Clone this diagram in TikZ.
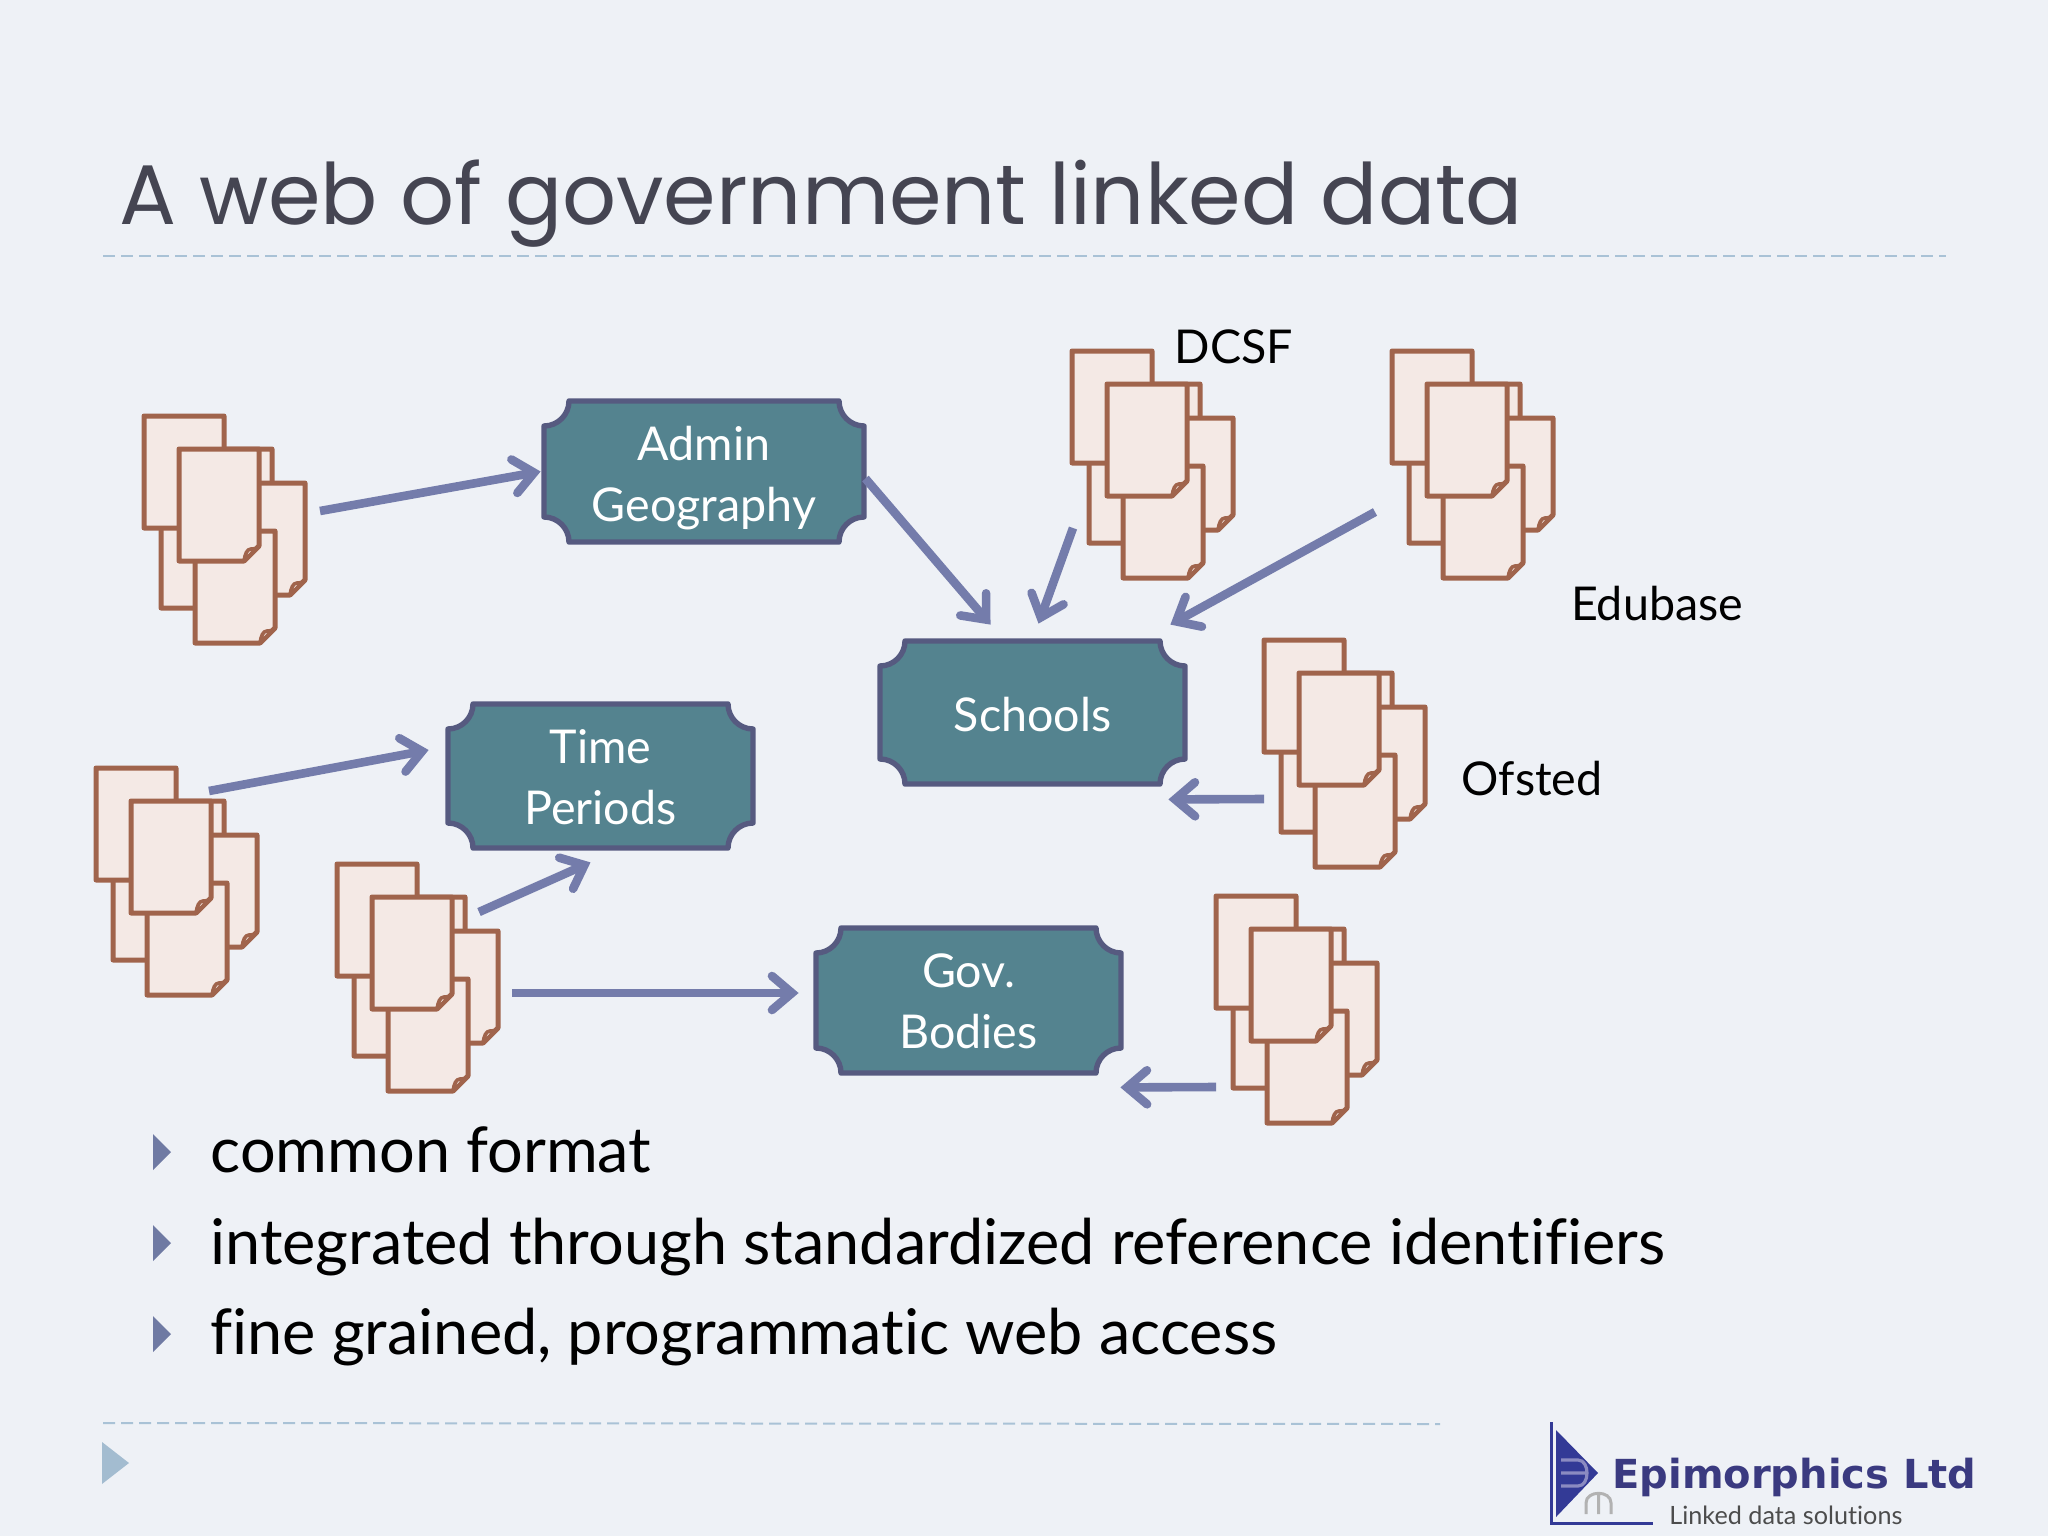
\documentclass[tikz,border=0pt]{standalone}
\usepackage{fontspec}
\setmainfont[Ligatures=NoCommon]{Lato}
\newfontfamily\titlefont{Poppins}
\newfontfamily\logofont{DejaVu Sans}
\usetikzlibrary{arrows.meta,calc}
\definecolor{bg}{HTML}{EEF1F6}
\definecolor{boxfill}{HTML}{54838F}
\definecolor{boxline}{HTML}{565A80}
\definecolor{arrowc}{HTML}{747CAB}
\definecolor{pagefill}{HTML}{F4E9E5}
\definecolor{pageline}{HTML}{A0644C}
\definecolor{titlec}{HTML}{454552}
\definecolor{dashc}{HTML}{A9C2D6}
\definecolor{playc}{HTML}{A3BCD0}
\definecolor{bulletc}{HTML}{6F7AA3}
\definecolor{logoblue}{HTML}{333A96}
\definecolor{logotext}{HTML}{3A3A80}
\tikzset{
  plaquepath/.style={draw=boxline,fill=boxfill,line width=2.7pt,line join=round},
  plaquetext/.style={inner sep=0pt,text=white,align=center,font=\fontsize{23.3}{30.5}\selectfont},
  pagepath/.style={draw=pageline,fill=pagefill,line width=2.5pt,line join=round},
  link/.style={draw=arrowc,line width=4.3pt,-{Straight Barb[length=10pt,width=17pt,line cap=round]}},
  dashrule/.style={draw=dashc,line width=1pt,dash pattern=on 6pt off 3pt},
  bulletmark/.style={fill=bulletc},
  bullettext/.style={anchor=base west,inner sep=0pt,font=\fontsize{31.5}{36}\selectfont,text=black},
  sidelabel/.style={inner sep=0pt,font=\fontsize{23.3}{30}\selectfont,text=black},
}
\newcommand{\rr}{25}
\newcommand{\plaque}[7]{%
  \path[plaquepath] ({#2+\rr},#3) -- ({#4-\rr},#3)
    .. controls ({#4-\rr},{#3+0.55*\rr}) and ({#4-0.55*\rr},{#3+\rr}) .. (#4,{#3+\rr})
    -- (#4,{#5-\rr})
    .. controls ({#4-0.55*\rr},{#5-\rr}) and ({#4-\rr},{#5-0.55*\rr}) .. ({#4-\rr},#5)
    -- ({#2+\rr},#5)
    .. controls ({#2+\rr},{#5-0.55*\rr}) and ({#2+0.55*\rr},{#5-\rr}) .. (#2,{#5-\rr})
    -- (#2,{#3+\rr})
    .. controls ({#2+0.55*\rr},{#3+\rr}) and ({#2+\rr},{#3+0.55*\rr}) .. ({#2+\rr},#3) -- cycle;
  \node[plaquetext,minimum width={(#4-#2)*0.5pt},minimum height={(#5-#3)*0.5pt}] (#1) at ({(#2+#4)/2},{(#3+#5)/2}) {};
  \node[plaquetext,anchor=center] at ($(#1.center)+(0,#6)$) {#7};
}
\newcommand{\docpage}[2]{%
  \begin{scope}[shift={(#1,#2)}]
    \path[pagepath] (0,0) -- (80,0) -- (80,97) -- (65,112) -- (0,112) -- cycle;
    \path[pagepath,line width=1.8pt] (65,112) .. controls (66,105) and (68,100) .. (72,100) .. controls (75,101) and (78,99) .. (80,97) -- cycle;
  \end{scope}
}
\newcommand{\docstack}[3]{%
  \coordinate (#1) at (#2,#3);
  \begin{scope}[shift={(#2+1,#3+1)}]
    \docpage{48}{33}\docpage{17}{80}\docpage{0}{0}\docpage{81}{67}\docpage{51}{115}\docpage{35}{33}
  \end{scope}
}
\begin{document}
\begin{tikzpicture}[x=0.5pt,y=-0.5pt]
\fill[bg] (0,0) rectangle (2048,1536);
\useasboundingbox (0,0) rectangle (2048,1536);
% title
\node[anchor=base west,inner sep=0pt,text=titlec,font=\titlefont\fontsize{42.3}{48}\selectfont] (title) at (119,224) {A web of government linked data};
\coordinate (ruleTopL) at (103,256);
\coordinate (ruleTopR) at (1946,256);
\draw[dashrule] (ruleTopL) -- (ruleTopR);
\coordinate (ruleBotL) at (103,1423);
\coordinate (ruleBotR) at (1440,1424);
\draw[dashrule] (ruleBotL) -- (ruleBotR);
\fill[playc] (102,1442) -- (129,1463) -- (102,1484) -- cycle;
% stacks
\docstack{stA}{143}{415}
\docstack{stD}{1071}{350}
\docstack{stE}{1391}{350}
\docstack{stO}{1263}{639}
\docstack{stT}{95}{767}
\docstack{stM}{336}{863}
\docstack{stG}{1215}{895}
% plaques
\plaque{admin}{544}{401}{864}{542}{7}{Admin\\Geography}
\plaque{schools}{880}{641}{1185}{784}{2}{Schools}
\plaque{time}{448}{704}{753}{848}{1}{Time\\Periods}
\plaque{gov}{816}{928}{1121}{1073}{1}{Gov.\\Bodies}
% links
\draw[link] ($(stA)+(177,96)$) -- ($(admin.west)+(-3,0)$);
\draw[link] ($(admin.east)+(1,7)$) -- ($(schools.north)+(-42,-16)$);
\draw[link] ($(stD)+(2,178)$) -- ($(schools.north)+(6,-17)$);
\draw[link] ($(stE)+(-16,162)$) -- ($(schools.north east)+(-15,-16)$);
\draw[link] ($(stO)+(1,160)$) -- ($(schools.south east)+(-17,15)$);
\draw[link] ($(stT)+(114,24)$) -- ($(time.west)+(-19,-26)$);
\draw[link] ($(stM)+(143,49)$) -- ($(time.south)+(-10,14)$);
\draw[link] ($(stM)+(176,130)$) -- ($(gov.west)+(-17,-7.5)$);
\draw[link] ($(stG)+(1,192)$) -- ($(gov.south east)+(-1,14)$);
% labels
\node[sidelabel] (dcsf) at (1234,347) {DCSF};
\node[sidelabel] (edubase) at (1657,604) {Edubase};
\node[sidelabel] (ofsted) at (1532,779) {Ofsted};
% bullets
\fill[bulletmark] (153,1134) -- (171,1152) -- (153,1170) -- cycle;
\fill[bulletmark] (153,1225) -- (171,1243) -- (153,1261) -- cycle;
\fill[bulletmark] (153,1316) -- (171,1334) -- (153,1352) -- cycle;
\node[bullettext] (b1) at (210,1172) {common format};
\node[bullettext] (b2) at (210,1264) {integrated through standardized reference identifiers};
\node[bullettext] (b3) at (210,1354) {fine grained, programmatic web access};
% logo
\fill[logoblue] (1550,1422) rectangle (1553,1525);
\fill[logoblue] (1550,1522) rectangle (1653,1525);
\fill[logoblue] (1556,1430) -- (1598,1473) -- (1556,1517) -- cycle;
\draw[color=blue!30!gray!70,line width=1.6pt] (1561,1460) -- (1578,1460) .. controls (1590,1460) and (1590,1486) .. (1578,1486) -- (1561,1486) (1561,1473) -- (1585,1473);
\draw[color=gray!60,line width=1.5pt] (1586,1514) -- (1586,1503) .. controls (1586,1490) and (1611,1490) .. (1611,1503) -- (1611,1514) (1598.5,1514) -- (1598.5,1495);
\node[anchor=base west,inner sep=0pt,text=logotext,font=\logofont\bfseries\fontsize{20}{24}\selectfont] (logo) at (1612,1488) {Epimorphics Ltd};
\node[anchor=base west,inner sep=0pt,text=black!70,font=\fontsize{12.6}{15}\selectfont] (logosub) at (1669,1524) {Linked data solutions};
\end{tikzpicture}
\end{document}
